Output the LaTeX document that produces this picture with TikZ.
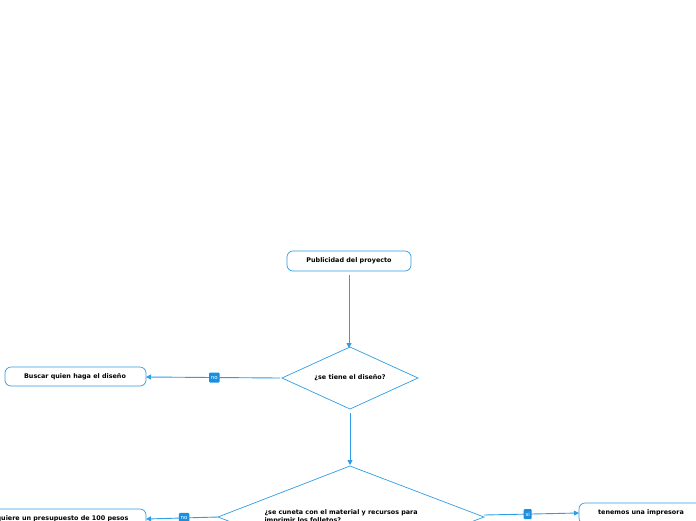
\documentclass[tikz,border=0pt]{standalone}
\usepackage{fontspec}
\setmainfont{DejaVu Sans}
\usetikzlibrary{arrows.meta}
\definecolor{ln}{HTML}{2E9EE6}
\definecolor{lab}{HTML}{1A8FDF}
\begin{document}
\begin{tikzpicture}[x=1pt,y=-1pt,
  txt/.style={font=\bfseries\fontsize{6.4}{8}\selectfont},
  boxn/.style={draw=ln,line width=0.7pt,rounded corners=6pt,fill=white},
  conn/.style={draw=ln,line width=0.9pt,-{Triangle[length=5pt,width=5pt]}},
  tag/.style={fill=lab,text=white,font=\fontsize{5.5}{6}\selectfont,inner sep=1.8pt,rounded corners=1pt,minimum height=10pt}]
\useasboundingbox (0,0) rectangle (696,520);
\clip (0,0) rectangle (696,520);
\fill[white] (0,0) rectangle (696,520);
\draw[boxn] (287,251) rectangle (411,271);
\node[txt] (top) at (349,261) {Publicidad del proyecto};
\coordinate (topb) at (349,275);
\draw[draw=ln,line width=0.7pt,fill=white] (350,347) -- (418,378) -- (350,409) -- (282,378) -- cycle;
\node[txt] (d1) at (350,378) {¿se tiene el diseño?};
\coordinate (d1t) at (349,348);
\coordinate (d1l) at (280,378);
\coordinate (d1b) at (350,413);
\draw[boxn] (5,367) rectangle (146,386);
\node[txt] (buscar) at (75,376.5) {Buscar quien haga el diseño};
\coordinate (buscarR) at (146,377);
\draw[draw=ln,line width=0.7pt,fill=white] (350,466) -- (484,517) -- (350,568) -- (218,517) -- cycle;
\node[txt,align=left,anchor=north west] (d2) at (261,506) {¿se cuneta con el material y recursos para\\imprimir los folletos?};
\coordinate (d2t) at (350,465);
\coordinate (d2l) at (218,517);
\coordinate (d2r) at (484,515);
\draw[boxn] (-40,509) rectangle (146,530);
\node[txt,anchor=east] (pres) at (132,519) {Se requiere un presupuesto de 100 pesos};
\coordinate (presR) at (146,519);
\draw[boxn] (579,503) rectangle (720,524);
\node[txt] (imp) at (641,513) {tenemos una impresora};
\coordinate (impL) at (579,513);
\draw[conn] (topb) -- (d1t);
\draw[conn] (d1l) -- (buscarR) node[tag,pos=0.49] {no};
\draw[conn] (d1b) -- (d2t);
\draw[conn] (d2l) -- (presR) node[tag,pos=0.47] {no};
\draw[conn] (d2r) -- (impL) node[tag,pos=0.46] {si};
\end{tikzpicture}
\end{document}
